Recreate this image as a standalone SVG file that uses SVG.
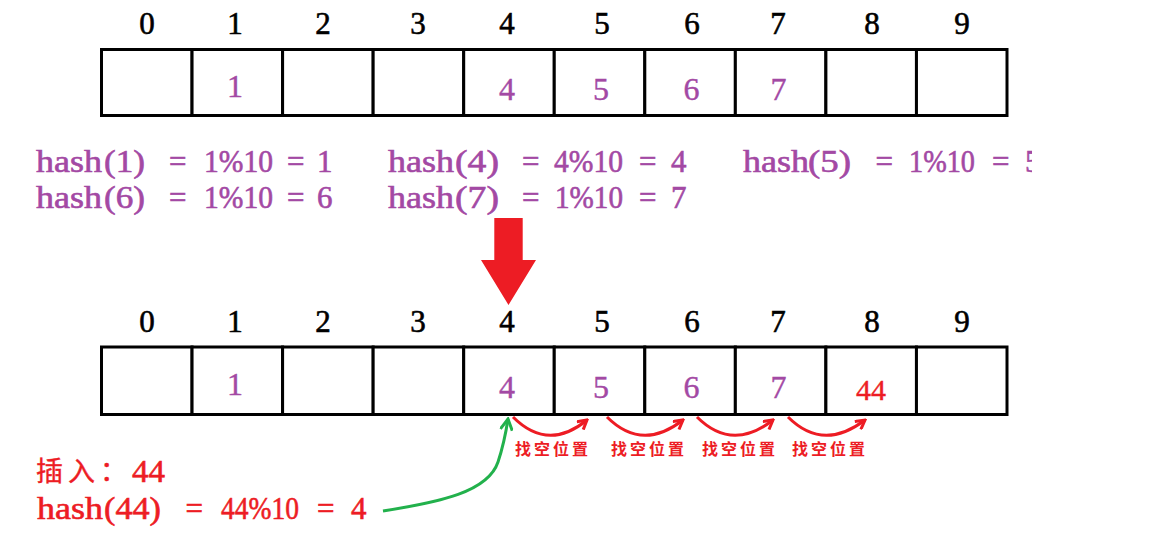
<svg xmlns="http://www.w3.org/2000/svg" width="1169" height="546" viewBox="0 0 1169 546">
<style>
.cell{fill:#fff;stroke:#000;stroke-width:3}
.idx{font-family:"Liberation Serif",serif;font-size:31px;fill:#000;stroke:#000;stroke-width:0.6;text-anchor:middle}
.val{font-family:"Liberation Serif",serif;font-size:32px;fill:#A349A4;stroke:#A349A4;stroke-width:0.4;text-anchor:middle}
.ins{font-family:"Liberation Serif",serif;font-size:30px;fill:#ED1C24;stroke:#ED1C24;stroke-width:0.4;text-anchor:middle}
.ph{font-family:"Liberation Serif",serif;font-size:31px;fill:#A349A4;stroke:#A349A4;stroke-width:0.6}
.rd{font-family:"Liberation Serif","Noto Sans CJK SC",serif;font-size:31px;fill:#ED1C24;stroke:#ED1C24;stroke-width:0.6}
.cj{font-family:"Noto Sans CJK SC",sans-serif;font-size:27px;fill:#ED1C24;stroke:#ED1C24;stroke-width:0.4}
.lbl{font-family:"Noto Sans CJK SC",sans-serif;font-size:16px;font-weight:bold;fill:#ED1C24}
.rc{fill:none;stroke:#ED1C24;stroke-width:3}
.gc{fill:none;stroke:#22B14C;stroke-width:3}
</style>
<defs>
<marker id="hr" viewBox="0 0 12 12" refX="10" refY="6" markerWidth="12" markerHeight="12" markerUnits="userSpaceOnUse" orient="auto"><path d="M1,1 L10,6 L1,11" fill="none" stroke="#ED1C24" stroke-width="3"/></marker>
<marker id="hg" viewBox="0 0 14 14" refX="12" refY="7" markerWidth="14" markerHeight="14" markerUnits="userSpaceOnUse" orient="auto"><path d="M1,1 L12,7 L1,13" fill="none" stroke="#22B14C" stroke-width="3"/></marker>
<clipPath id="clip5"><rect x="0" y="0" width="1032" height="546"/></clipPath>
</defs>
<rect width="1169" height="546" fill="#fff"/>

<!-- top array -->
<g id="top-array">
<g id="t0"><rect class="cell" x="101.5" y="49.5" width="90.55" height="66"/><text class="idx" x="147" y="34">0</text></g>
<g id="t1"><rect class="cell" x="192.05" y="49.5" width="90.55" height="66"/><text class="idx" x="235" y="34">1</text><text class="val" x="235" y="96.5">1</text></g>
<g id="t2"><rect class="cell" x="282.6" y="49.5" width="90.55" height="66"/><text class="idx" x="323" y="34">2</text></g>
<g id="t3"><rect class="cell" x="373.15" y="49.5" width="90.55" height="66"/><text class="idx" x="418" y="34">3</text></g>
<g id="t4"><rect class="cell" x="463.7" y="49.5" width="90.55" height="66"/><text class="idx" x="507" y="34">4</text><text class="val" x="507" y="100">4</text></g>
<g id="t5"><rect class="cell" x="554.25" y="49.5" width="90.55" height="66"/><text class="idx" x="602" y="34">5</text><text class="val" x="601" y="100">5</text></g>
<g id="t6"><rect class="cell" x="644.8" y="49.5" width="90.55" height="66"/><text class="idx" x="692" y="34">6</text><text class="val" x="691.5" y="100">6</text></g>
<g id="t7"><rect class="cell" x="735.35" y="49.5" width="90.55" height="66"/><text class="idx" x="778" y="34">7</text><text class="val" x="778.5" y="100">7</text></g>
<g id="t8"><rect class="cell" x="825.9" y="49.5" width="90.55" height="66"/><text class="idx" x="872" y="34">8</text></g>
<g id="t9"><rect class="cell" x="916.45" y="49.5" width="90.55" height="66"/><text class="idx" x="962" y="34">9</text></g>
</g>

<!-- hash formulas -->
<g id="formulas">
<g id="f1">
<text class="ph" x="36" y="171.5" textLength="66" lengthAdjust="spacingAndGlyphs">hash</text>
<text class="ph" x="104" y="171.5" textLength="41" lengthAdjust="spacingAndGlyphs">(1)</text>
<text class="ph" x="169" y="171.5">=</text>
<text class="ph" x="204" y="171.5" textLength="69" lengthAdjust="spacingAndGlyphs">1%10</text>
<text class="ph" x="287" y="171.5">=</text>
<text class="ph" x="317" y="171.5">1</text>
</g>
<g id="f4">
<text class="ph" x="388" y="171.5" textLength="66" lengthAdjust="spacingAndGlyphs">hash</text>
<text class="ph" x="455" y="171.5" textLength="44" lengthAdjust="spacingAndGlyphs">(4)</text>
<text class="ph" x="522" y="171.5">=</text>
<text class="ph" x="554" y="171.5" textLength="69" lengthAdjust="spacingAndGlyphs">4%10</text>
<text class="ph" x="639" y="171.5">=</text>
<text class="ph" x="671" y="171.5">4</text>
</g>
<g id="f5" clip-path="url(#clip5)">
<text class="ph" x="743" y="171.5" textLength="66" lengthAdjust="spacingAndGlyphs">hash</text>
<text class="ph" x="808" y="171.5" textLength="43" lengthAdjust="spacingAndGlyphs">(5)</text>
<text class="ph" x="875.5" y="171.5">=</text>
<text class="ph" x="909" y="171.5" textLength="66" lengthAdjust="spacingAndGlyphs">1%10</text>
<text class="ph" x="992" y="171.5">=</text>
<text class="ph" x="1025" y="171.5">5</text>
</g>
<g id="f6">
<text class="ph" x="36" y="208" textLength="66" lengthAdjust="spacingAndGlyphs">hash</text>
<text class="ph" x="104" y="208" textLength="41" lengthAdjust="spacingAndGlyphs">(6)</text>
<text class="ph" x="169" y="208">=</text>
<text class="ph" x="204" y="208" textLength="69" lengthAdjust="spacingAndGlyphs">1%10</text>
<text class="ph" x="287" y="208">=</text>
<text class="ph" x="317" y="208">6</text>
</g>
<g id="f7">
<text class="ph" x="388" y="208" textLength="66" lengthAdjust="spacingAndGlyphs">hash</text>
<text class="ph" x="455" y="208" textLength="44" lengthAdjust="spacingAndGlyphs">(7)</text>
<text class="ph" x="522" y="208">=</text>
<text class="ph" x="555" y="208" textLength="68" lengthAdjust="spacingAndGlyphs">1%10</text>
<text class="ph" x="639" y="208">=</text>
<text class="ph" x="671" y="208">7</text>
</g>
</g>

<!-- big red arrow -->
<g id="big-arrow">
<polygon points="494.3,218 522.7,218 522.7,260 536,260 508.5,305 481,260 494.3,260" fill="#ED1C24"/>
</g>

<!-- bottom array -->
<g id="bottom-array">
<g id="b0"><rect class="cell" x="101.5" y="347" width="90.55" height="67.5"/><text class="idx" x="147" y="332">0</text></g>
<g id="b1"><rect class="cell" x="192.05" y="347" width="90.55" height="67.5"/><text class="idx" x="235" y="332">1</text><text class="val" x="235" y="394.5">1</text></g>
<g id="b2"><rect class="cell" x="282.6" y="347" width="90.55" height="67.5"/><text class="idx" x="323" y="332">2</text></g>
<g id="b3"><rect class="cell" x="373.15" y="347" width="90.55" height="67.5"/><text class="idx" x="418" y="332">3</text></g>
<g id="b4"><rect class="cell" x="463.7" y="347" width="90.55" height="67.5"/><text class="idx" x="507" y="332">4</text><text class="val" x="507" y="398">4</text></g>
<g id="b5"><rect class="cell" x="554.25" y="347" width="90.55" height="67.5"/><text class="idx" x="602" y="332">5</text><text class="val" x="601" y="398">5</text></g>
<g id="b6"><rect class="cell" x="644.8" y="347" width="90.55" height="67.5"/><text class="idx" x="692" y="332">6</text><text class="val" x="691.5" y="398">6</text></g>
<g id="b7"><rect class="cell" x="735.35" y="347" width="90.55" height="67.5"/><text class="idx" x="778" y="332">7</text><text class="val" x="778.5" y="398">7</text></g>
<g id="b8"><rect class="cell" x="825.9" y="347" width="90.55" height="67.5"/><text class="idx" x="872" y="332">8</text><text class="ins" x="871" y="399.5">44</text></g>
<g id="b9"><rect class="cell" x="916.45" y="347" width="90.55" height="67.5"/><text class="idx" x="962" y="332">9</text></g>
</g>

<!-- connectors -->
<g id="connectors">
<path class="rc" d="M513,417 Q548,452 587,420" marker-end="url(#hr)"/>
<path class="rc" d="M607,417 Q642,452 683,420" marker-end="url(#hr)"/>
<path class="rc" d="M697,417 Q732,452 773,420" marker-end="url(#hr)"/>
<path class="rc" d="M788,417 Q823,452 865,420" marker-end="url(#hr)"/>
<path class="gc" d="M383,511 C440,502 488,492 498,462 C503,447 506,432 508,419" marker-end="url(#hg)"/>
</g>

<!-- probe labels -->
<g id="labels">
<text class="lbl" x="515" y="455" textLength="73" lengthAdjust="spacing">找空位置</text>
<text class="lbl" x="611" y="455" textLength="73" lengthAdjust="spacing">找空位置</text>
<text class="lbl" x="702" y="455" textLength="73" lengthAdjust="spacing">找空位置</text>
<text class="lbl" x="792" y="455" textLength="73" lengthAdjust="spacing">找空位置</text>
</g>

<!-- insert note -->
<g id="insert-note">
<text class="cj" y="481"><tspan x="36">插</tspan><tspan x="68">入</tspan><tspan x="100">：</tspan></text>
<text class="rd" x="132" y="481.5" textLength="33" lengthAdjust="spacingAndGlyphs">44</text>
<text class="rd" x="37" y="518.5" textLength="66" lengthAdjust="spacingAndGlyphs">hash</text>
<text class="rd" x="104" y="518.5" textLength="57" lengthAdjust="spacingAndGlyphs">(44)</text>
<text class="rd" x="185.5" y="518.5">=</text>
<text class="rd" x="221" y="518.5" textLength="78" lengthAdjust="spacingAndGlyphs">44%10</text>
<text class="rd" x="317" y="518.5">=</text>
<text class="rd" x="351" y="518.5">4</text>
</g>
</svg>
